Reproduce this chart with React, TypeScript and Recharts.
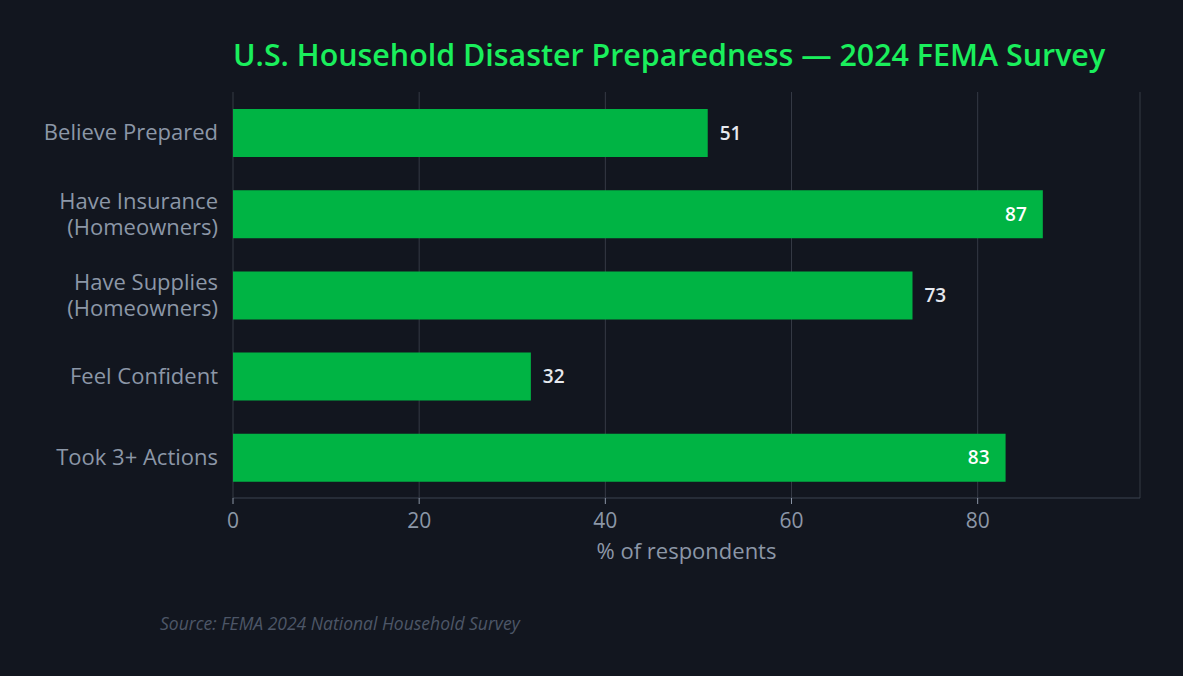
import React from "react";
import { BarChart, Bar, XAxis, YAxis, CartesianGrid, LabelList, Label } from "recharts";

const categories = [
  "Believe Prepared",
  "Have Insurance\n(Homeowners)",
  "Have Supplies\n(Homeowners)",
  "Feel Confident",
  "Took 3+ Actions",
];
const percentValues = [51, 87, 73, 32, 83];
const xTicks = [0, 20, 40, 60, 80];

const data = categories.map((name, i) => ({ name, value: percentValues[i] }));
const maxValue = Math.max(...percentValues);

const FONT = "'Open Sans', 'Noto Sans', sans-serif";
const BG = "#12161f";
const MUTED = "#8c97a7";

const CategoryTick = (props: any) => {
  const { x, y, payload } = props;
  const lines = String(payload.value).split("\n");
  const lineH = 26;
  const start = -((lines.length - 1) * lineH) / 2;
  return (
    <text x={x} y={y} textAnchor="end" fill={MUTED} fontSize={22} fontFamily={FONT}>
      {lines.map((l, i) => (
        <tspan key={i} x={x} y={y + start + i * lineH} dy="0.35em">
          {l}
        </tspan>
      ))}
    </text>
  );
};

// big bars get the number inside, the rest just past the end
const ValueLabel = (props: any) => {
  const { x, y, width, height, value } = props;
  const inside = value > maxValue * 0.9;
  return (
    <text
      x={inside ? x + width - 16 : x + width + 12}
      y={y + height / 2}
      dy="0.35em"
      textAnchor={inside ? "end" : "start"}
      fill={inside ? "#ffffff" : "#e6e9ef"}
      fontSize={19}
      fontWeight={600}
      fontFamily={FONT}
    >
      {value}
    </text>
  );
};

export default function App() {
  return (
    <div style={{ position: "fixed", left: 0, top: 0, width: 1183, height: 676, background: BG, fontFamily: FONT }}>
      <div
        style={{
          position: "absolute",
          left: 233,
          top: 34,
          color: "#1aef5c",
          fontSize: 30.4,
          fontWeight: 600,
          whiteSpace: "nowrap",
        }}
      >
        U.S. Household Disaster Preparedness — 2024 FEMA Survey
      </div>
      <BarChart
        width={1183}
        height={676}
        data={data}
        layout="vertical"
        margin={{ top: 92, right: 43, left: 0, bottom: 108 }}
      >
        <CartesianGrid horizontal={false} stroke="#353a45" />
        <XAxis
          type="number"
          domain={[0, maxValue * 1.12]}
          ticks={xTicks}
          height={70}
          stroke="#3b4250"
          tickLine={{ stroke: "#8b95a5" }}
          tickSize={6}
          tickMargin={9}
          tick={{ fill: MUTED, fontSize: 21, fontFamily: FONT }}
        >
          <Label
            value="% of respondents"
            position="insideBottom"
            offset={9}
            fill={MUTED}
            fontSize={22}
            fontFamily={FONT}
          />
        </XAxis>
        <YAxis
          type="category"
          dataKey="name"
          width={233}
          axisLine={false}
          tickLine={false}
          tickMargin={9}
          tick={<CategoryTick />}
        />
        <Bar dataKey="value" fill="#00b444" barSize={48} isAnimationActive={false}>
          <LabelList dataKey="value" content={<ValueLabel />} />
        </Bar>
      </BarChart>
      <div
        style={{
          position: "absolute",
          left: 160,
          top: 611,
          color: "#4d5667",
          fontSize: 17.5,
          fontStyle: "italic",
          whiteSpace: "nowrap",
        }}
      >
        Source: FEMA 2024 National Household Survey
      </div>
    </div>
  );
}
